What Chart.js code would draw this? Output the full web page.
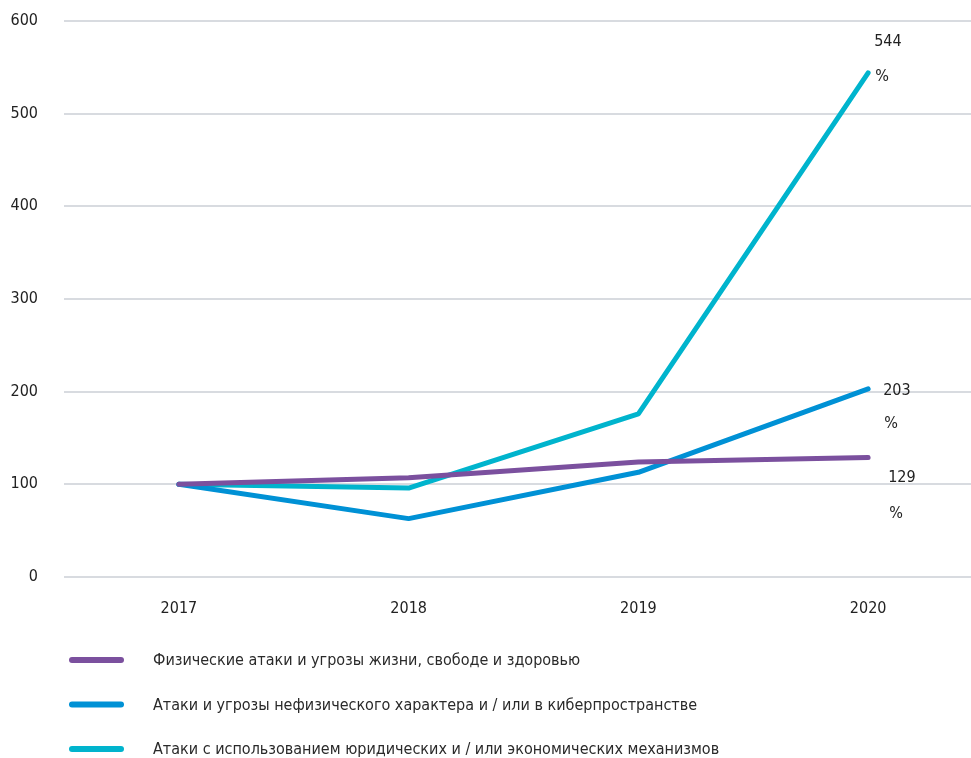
<!DOCTYPE html>
<html><head><meta charset="utf-8">
<script src="https://cdn.jsdelivr.net/npm/chart.js@4"></script>
<style>
html,body{margin:0;padding:0;background:#fff;overflow:hidden;width:971px;height:758px}
#wrap{position:relative;width:983px;height:758px}
</style></head><body>
<div id="wrap"><canvas id="c" width="983" height="758"></canvas></div>
<script>
const years = ["2017","2018","2019","2020"];
const physical = [100, 107, 124, 129];
const cyber = [100, 63, 113, 203];
const legal = [100, 96, 176, 544];
const seriesNames = [
  "Физические атаки и угрозы жизни, свободе и здоровью",
  "Атаки и угрозы нефизического характера и / или в киберпространстве",
  "Атаки с использованием юридических и / или экономических механизмов"
];
const yTicks = [0,100,200,300,400,500,600];

const FONT = '"Liberation Sans Narrow","DejaVu Sans Condensed","Roboto",sans-serif';
const colors = ["#7b509e","#0091d5","#00b4cd"];
const labelOffsets = [[20,20,56],[15,2,35],[6,-31,4]];

const endLabels = {
  id:'endLabels',
  afterDatasetsDraw(chart){
    const ctx = chart.ctx;
    ctx.save();
    ctx.font = '16px ' + FONT;
    ctx.fillStyle = '#222';
    ctx.textBaseline = 'middle';
    ctx.textAlign = 'left';
    chart.data.datasets.forEach((ds,i)=>{
      const meta = chart.getDatasetMeta(i);
      const last = ds.data.length-1;
      const pt = meta.data[last];
      const o = labelOffsets[i];
      ctx.fillText(String(ds.data[last]), pt.x + o[0], pt.y + o[1]);
      ctx.fillText('%', pt.x + o[0] + 1, pt.y + o[2]);
    });
    ctx.restore();
  }
};

const customLegend = {
  id:'customLegend',
  afterDraw(chart){
    const ctx = chart.ctx;
    ctx.save();
    ctx.font = '16px ' + FONT;
    ctx.textBaseline = 'middle';
    ctx.textAlign = 'left';
    chart.data.datasets.forEach((ds,i)=>{
      const y = 660 + i*44.5;
      ctx.strokeStyle = ds.borderColor;
      ctx.lineWidth = 6;
      ctx.lineCap = 'round';
      ctx.beginPath(); ctx.moveTo(72,y); ctx.lineTo(121,y); ctx.stroke();
      ctx.fillStyle = '#2a2a2a';
      ctx.fillText(ds.label, 153, y+1);
    });
    ctx.restore();
  }
};

new Chart(document.getElementById('c'), {
  type:'line',
  data:{
    labels: years,
    datasets:[
      {label:seriesNames[0], data:physical, borderColor:colors[0]},
      {label:seriesNames[1], data:cyber, borderColor:colors[1]},
      {label:seriesNames[2], data:legal, borderColor:colors[2]}
    ].map(d=>Object.assign(d,{borderWidth:5,pointRadius:0,pointHoverRadius:0,tension:0,borderCapStyle:'round',borderJoinStyle:'round',fill:false}))
  },
  options:{
    responsive:false,
    animation:false,
    events:[],
    layout:{padding:{top:21,right:0,bottom:136,left:0}},
    plugins:{legend:{display:false},tooltip:{enabled:false}},
    scales:{
      x:{
        offset:true,
        grid:{display:false,drawTicks:false},
        border:{display:false},
        ticks:{color:'#222',font:{family:FONT,size:16},padding:22},
        afterFit(s){s.height=45;s.paddingLeft=0;s.paddingRight=0;s.paddingTop=0;s.paddingBottom=0;}
      },
      y:{
        min:0,max:600,
        afterBuildTicks(s){s.ticks = yTicks.map(v=>({value:v}));},
        grid:{color:'#d8dbe0',lineWidth:2,drawTicks:false},
        border:{display:false},
        ticks:{color:'#222',font:{family:FONT,size:16},padding:26},
        afterFit(s){s.width=64;s.paddingTop=0;s.paddingBottom=0;s.paddingLeft=0;s.paddingRight=0;}
      }
    }
  },
  plugins:[endLabels,customLegend]
});
</script>
</body></html>
